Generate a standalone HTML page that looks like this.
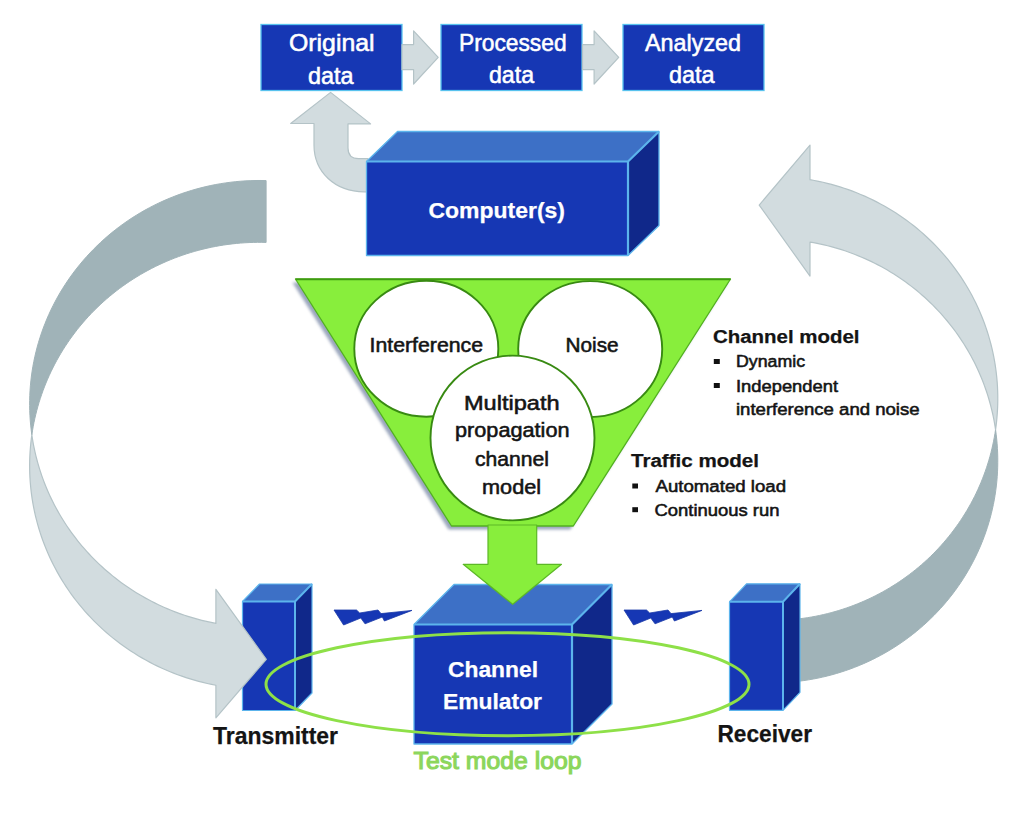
<!DOCTYPE html>
<html><head><meta charset="utf-8"><style>
html,body{margin:0;padding:0;background:#fff;}
svg{display:block;font-family:"Liberation Sans",sans-serif;}
</style></head><body>
<svg width="1024" height="813" viewBox="0 0 1024 813">
<defs><filter id="blur" x="-10%" y="-10%" width="120%" height="120%"><feGaussianBlur stdDeviation="1.6"/></filter></defs>
<rect width="1024" height="813" fill="#fff"/>
<path d="M266.10,180.58 L261.04,180.49 L255.99,180.50 L250.93,180.63 L245.88,180.86 L240.84,181.20 L235.80,181.65 L230.78,182.21 L225.77,182.88 L220.78,183.65 L215.80,184.53 L210.85,185.51 L205.92,186.60 L201.01,187.80 L196.14,189.10 L191.29,190.50 L186.48,192.01 L181.70,193.62 L176.96,195.34 L172.26,197.15 L167.60,199.07 L162.99,201.08 L158.42,203.19 L153.90,205.40 L149.44,207.71 L145.02,210.11 L140.67,212.60 L136.37,215.19 L132.13,217.87 L127.95,220.64 L123.83,223.50 L119.78,226.44 L115.80,229.47 L111.89,232.59 L108.04,235.79 L104.28,239.07 L100.58,242.43 L96.97,245.87 L93.43,249.38 L89.97,252.97 L86.60,256.64 L83.31,260.37 L80.10,264.18 L76.98,268.05 L73.95,271.99 L71.01,275.99 L68.16,280.05 L65.41,284.18 L62.74,288.36 L60.17,292.60 L57.70,296.89 L55.33,301.23 L53.06,305.63 L50.88,310.07 L48.81,314.56 L46.84,319.09 L44.97,323.66 L43.20,328.27 L41.54,332.91 L39.99,337.60 L38.54,342.31 L37.20,347.05 L35.97,351.82 L34.84,356.62 L33.82,361.44 L32.92,366.28 L32.12,371.14 L31.43,376.01 L30.86,380.90 L30.39,385.80 L30.03,390.70 L29.79,395.62 L29.66,400.54 L29.64,405.46 L29.72,410.38 L29.93,415.29 L30.24,420.20 L30.66,425.10 L31.20,430.00 L31.84,434.87 L31.84,434.88 L32.47,430.79 L33.17,426.71 L33.95,422.65 L34.81,418.60 L35.75,414.56 L36.76,410.55 L37.85,406.55 L39.01,402.58 L40.25,398.62 L41.57,394.69 L42.96,390.78 L44.42,386.90 L45.96,383.05 L47.57,379.22 L49.25,375.43 L51.00,371.66 L52.83,367.93 L54.73,364.23 L56.69,360.56 L58.73,356.93 L60.83,353.34 L63.00,349.79 L65.24,346.28 L67.55,342.80 L69.92,339.37 L72.36,335.98 L74.86,332.64 L77.42,329.34 L80.05,326.09 L82.73,322.89 L85.48,319.74 L88.29,316.63 L91.15,313.58 L94.08,310.58 L97.06,307.63 L100.09,304.74 L103.18,301.90 L106.32,299.12 L109.52,296.39 L112.77,293.73 L116.06,291.12 L119.41,288.57 L122.80,286.08 L126.24,283.66 L129.73,281.29 L133.26,278.99 L136.83,276.75 L140.45,274.58 L144.10,272.48 L147.80,270.44 L151.53,268.46 L155.30,266.56 L159.11,264.72 L162.95,262.95 L166.82,261.25 L170.73,259.62 L174.66,258.06 L178.63,256.57 L182.62,255.16 L186.64,253.81 L190.68,252.54 L194.75,251.34 L198.84,250.22 L202.95,249.16 L207.07,248.19 L211.22,247.28 L215.38,246.46 L219.56,245.70 L223.75,245.02 L227.96,244.42 L232.17,243.90 L236.39,243.44 L240.63,243.07 L244.86,242.77 L249.11,242.55 L253.35,242.41 L257.60,242.34 L261.85,242.34 L266.10,242.43Z" fill="#a0b3b8" stroke="#a0b3b8" stroke-width="1"/>
<path d="M995.55,429.66 L996.17,434.32 L996.69,439.00 L997.11,443.68 L997.43,448.38 L997.65,453.08 L997.77,457.78 L997.78,462.49 L997.70,467.19 L997.51,471.89 L997.22,476.59 L996.83,481.28 L996.34,485.96 L995.74,490.62 L995.05,495.28 L994.25,499.92 L993.36,504.54 L992.36,509.14 L991.27,513.73 L990.08,518.28 L988.79,522.81 L987.40,527.32 L985.92,531.79 L984.34,536.23 L982.66,540.64 L980.89,545.01 L979.02,549.35 L977.07,553.64 L975.01,557.89 L972.87,562.10 L970.64,566.27 L968.32,570.38 L965.91,574.45 L963.41,578.47 L960.83,582.43 L958.16,586.34 L955.40,590.19 L952.57,593.99 L949.65,597.72 L946.66,601.39 L943.58,605.00 L940.43,608.55 L937.20,612.03 L933.90,615.44 L930.52,618.78 L927.08,622.05 L923.56,625.25 L919.97,628.37 L916.32,631.42 L912.60,634.39 L908.82,637.29 L904.98,640.10 L901.08,642.84 L897.12,645.49 L893.10,648.06 L889.03,650.55 L884.91,652.95 L880.74,655.26 L876.51,657.49 L872.24,659.63 L867.92,661.68 L863.57,663.64 L859.16,665.51 L854.72,667.28 L850.25,668.97 L845.73,670.56 L841.19,672.05 L836.61,673.45 L832.00,674.76 L827.37,675.97 L822.71,677.08 L818.03,678.10 L813.33,679.02 L808.60,679.84 L803.87,680.56 L799.11,681.18 L794.35,681.71 L789.57,682.13 L784.79,682.46 L780.00,682.68 L780.00,620.35 L783.98,620.17 L787.96,619.92 L791.94,619.60 L795.91,619.22 L799.87,618.76 L803.82,618.23 L807.76,617.64 L811.69,616.98 L815.61,616.25 L819.52,615.46 L823.41,614.59 L827.28,613.66 L831.14,612.66 L834.98,611.60 L838.79,610.47 L842.59,609.27 L846.37,608.01 L850.12,606.68 L853.85,605.29 L857.55,603.83 L861.22,602.31 L864.87,600.73 L868.49,599.09 L872.08,597.38 L875.63,595.61 L879.16,593.78 L882.65,591.88 L886.11,589.93 L889.53,587.92 L892.91,585.85 L896.26,583.72 L899.57,581.54 L902.84,579.29 L906.06,576.99 L909.25,574.64 L912.39,572.23 L915.49,569.77 L918.54,567.25 L921.55,564.68 L924.51,562.06 L927.43,559.39 L930.30,556.67 L933.11,553.90 L935.88,551.08 L938.59,548.21 L941.26,545.30 L943.87,542.34 L946.43,539.34 L948.93,536.29 L951.38,533.20 L953.77,530.07 L956.10,526.90 L958.38,523.69 L960.60,520.44 L962.76,517.15 L964.86,513.82 L966.91,510.46 L968.89,507.06 L970.81,503.63 L972.66,500.17 L974.46,496.68 L976.19,493.15 L977.86,489.60 L979.46,486.02 L981.00,482.41 L982.48,478.77 L983.89,475.11 L985.23,471.42 L986.51,467.72 L987.72,463.99 L988.86,460.24 L989.94,456.47 L990.95,452.68 L991.88,448.88 L992.76,445.06 L993.56,441.23 L994.29,437.38 L994.96,433.52 L995.55,429.66Z" fill="#a0b3b8" stroke="#a0b3b8" stroke-width="1"/>
<path d="M810.00,145.10 L759.20,205.10 L810.00,276.10 L810.00,242.04 L813.55,242.67 L817.09,243.35 L820.61,244.09 L824.13,244.89 L827.63,245.74 L831.11,246.64 L834.59,247.60 L838.04,248.61 L841.48,249.68 L844.90,250.80 L848.30,251.98 L851.68,253.20 L855.05,254.48 L858.39,255.82 L861.70,257.20 L865.00,258.64 L868.27,260.12 L871.52,261.66 L874.74,263.25 L877.94,264.89 L881.11,266.58 L884.25,268.32 L887.36,270.10 L890.44,271.94 L893.50,273.82 L896.52,275.76 L899.51,277.73 L902.46,279.76 L905.39,281.83 L908.28,283.94 L911.13,286.11 L913.95,288.31 L916.74,290.56 L919.49,292.85 L922.19,295.19 L924.87,297.57 L927.50,299.98 L930.09,302.44 L932.64,304.94 L935.15,307.48 L937.62,310.06 L940.05,312.68 L942.44,315.33 L944.78,318.02 L947.07,320.75 L949.33,323.51 L951.54,326.31 L953.70,329.14 L955.81,332.01 L957.88,334.91 L959.90,337.84 L961.88,340.80 L963.80,343.79 L965.68,346.81 L967.51,349.86 L969.28,352.94 L971.01,356.05 L972.69,359.18 L974.31,362.34 L975.88,365.52 L977.41,368.73 L978.88,371.96 L980.29,375.22 L981.66,378.49 L982.97,381.79 L984.22,385.10 L985.43,388.44 L986.58,391.79 L987.67,395.16 L988.71,398.55 L989.69,401.96 L990.62,405.38 L991.49,408.81 L992.31,412.26 L993.07,415.71 L993.78,419.18 L994.42,422.67 L995.01,426.16 L995.55,429.66 L995.55,429.66 L996.13,425.36 L996.62,421.06 L997.02,416.75 L997.34,412.43 L997.58,408.11 L997.73,403.78 L997.79,399.45 L997.76,395.12 L997.65,390.79 L997.46,386.46 L997.18,382.14 L996.81,377.83 L996.35,373.52 L995.82,369.22 L995.19,364.94 L994.48,360.66 L993.69,356.41 L992.81,352.16 L991.85,347.94 L990.80,343.73 L989.67,339.54 L988.46,335.38 L987.16,331.24 L985.78,327.13 L984.32,323.04 L982.78,318.98 L981.16,314.96 L979.46,310.96 L977.68,307.00 L975.83,303.07 L973.89,299.18 L971.88,295.33 L969.79,291.51 L967.63,287.74 L965.39,284.01 L963.08,280.32 L960.69,276.68 L958.23,273.08 L955.71,269.53 L953.11,266.03 L950.44,262.58 L947.70,259.18 L944.90,255.84 L942.03,252.55 L939.10,249.31 L936.10,246.14 L933.04,243.01 L929.92,239.95 L926.74,236.95 L923.50,234.01 L920.20,231.14 L916.85,228.32 L913.44,225.57 L909.98,222.89 L906.46,220.28 L902.89,217.73 L899.27,215.25 L895.61,212.84 L891.89,210.50 L888.14,208.23 L884.33,206.04 L880.49,203.91 L876.60,201.86 L872.67,199.89 L868.70,197.99 L864.70,196.17 L860.66,194.43 L856.59,192.76 L852.48,191.17 L848.35,189.66 L844.18,188.23 L839.99,186.88 L835.77,185.61 L831.53,184.42 L827.26,183.31 L822.97,182.29 L818.67,181.34 L814.34,180.48 L810.00,179.71Z" fill="#d2dcdf" stroke="#b4c3c7" stroke-width="1.2" stroke-linejoin="round"/>
<rect x="261" y="24.5" width="141" height="66" fill="#1637b4" stroke="#58c2ee" stroke-width="1.3"/>
<rect x="441" y="24.5" width="141" height="66" fill="#1637b4" stroke="#58c2ee" stroke-width="1.3"/>
<rect x="623" y="24.5" width="141" height="66" fill="#1637b4" stroke="#58c2ee" stroke-width="1.3"/>
<path d="M402,44.6 L413.6,44.6 L413.6,30.8 L438.2,57.4 L413.6,84 L413.6,69.7 L402,69.7 Z" fill="#d2dcdf" stroke="#b4c3c7" stroke-width="1.2" stroke-linejoin="round"/>
<path d="M582.5,44.6 L594.1,44.6 L594.1,30.8 L618.7,57.4 L594.1,84 L594.1,69.7 L582.5,69.7 Z" fill="#d2dcdf" stroke="#b4c3c7" stroke-width="1.2" stroke-linejoin="round"/>
<path d="M330.6,92.4 L370.6,123.9 L348,123.9 L348,148 Q348,158.6 358.6,158.6 L368,158.6 L368,192 L364.2,191.8 C335,191.8 314,172 314,145 L314,123.5 L290.7,123.5 Z" fill="#d2dcdf" stroke="#b4c3c7" stroke-width="1.2" stroke-linejoin="round"/>
<polygon points="366.5,161.5 397.5,131.5 659,131.5 628,161.5" fill="#3d70c6"/>
<polygon points="628,161.5 659,131.5 659,225.5 628,255.5" fill="#10288a"/>
<rect x="366.5" y="161.5" width="261.5" height="94.0" fill="#1637b4"/>
<path d="M366.5,255.5 L366.5,161.5 L397.5,131.5 L659,131.5 L659,225.5 L628,255.5 Z" fill="none" stroke="#5cb4ec" stroke-width="1.32" stroke-linejoin="round"/>
<path d="M366.5,161.5 L628,161.5 L628,255.5 M628,161.5 L659,131.5" fill="none" stroke="#5cb4ec" stroke-width="2.2" stroke-linejoin="round"/>
<polygon points="295.5,279 730.5,279 573.3,526 451.5,526" fill="#7080a0" opacity="0.7" transform="translate(-3,3.5)" filter="url(#blur)"/>
<polygon points="295.5,279 730.5,279 573.3,526 451.5,526" fill="#88ee3c" stroke="#52b020" stroke-width="1.3" stroke-linejoin="round"/>
<line x1="295.5" y1="279.3" x2="730.5" y2="279.3" stroke="#3f9a12" stroke-width="1.8"/>
<ellipse cx="426.3" cy="348.7" rx="72" ry="68" fill="#fff" stroke="#388a12" stroke-width="1.9"/>
<ellipse cx="590.2" cy="349.1" rx="72" ry="68" fill="#fff" stroke="#388a12" stroke-width="1.9"/>
<ellipse cx="512.5" cy="438" rx="82" ry="82.4" fill="#fff" stroke="#388a12" stroke-width="1.9"/>
<polygon points="414,624.5 454,584.5 612,584.5 572,624.5" fill="#3d70c6"/>
<polygon points="572,624.5 612,584.5 612,704 572,744" fill="#10288a"/>
<rect x="414" y="624.5" width="158" height="119.5" fill="#1637b4"/>
<path d="M414,744 L414,624.5 L454,584.5 L612,584.5 L612,704 L572,744 Z" fill="none" stroke="#5cb4ec" stroke-width="1.32" stroke-linejoin="round"/>
<path d="M414,624.5 L572,624.5 L572,744 M572,624.5 L612,584.5" fill="none" stroke="#5cb4ec" stroke-width="2.2" stroke-linejoin="round"/>
<path d="M488,525 L536.7,525 L536.7,564.3 L561.5,564.3 L512.7,604.3 L463.2,564.3 L488,564.3 Z" fill="#88ee3c" stroke="#5cb826" stroke-width="1.2" stroke-linejoin="round"/>
<polygon points="242.5,601.5 259.5,584.0 312,584.0 295,601.5" fill="#3d70c6"/>
<polygon points="295,601.5 312,584.0 312,693.0 295,710.5" fill="#10288a"/>
<rect x="242.5" y="601.5" width="52.5" height="109.0" fill="#1637b4"/>
<path d="M242.5,710.5 L242.5,601.5 L259.5,584.0 L312,584.0 L312,693.0 L295,710.5 Z" fill="none" stroke="#5cb4ec" stroke-width="1.20" stroke-linejoin="round"/>
<path d="M242.5,601.5 L295,601.5 L295,710.5 M295,601.5 L312,584.0" fill="none" stroke="#5cb4ec" stroke-width="2" stroke-linejoin="round"/>
<polygon points="729.5,601.8 746.5,583.8 800,583.8 783,601.8" fill="#3d70c6"/>
<polygon points="783,601.8 800,583.8 800,692.3 783,710.3" fill="#10288a"/>
<rect x="729.5" y="601.8" width="53.5" height="108.5" fill="#1637b4"/>
<path d="M729.5,710.3 L729.5,601.8 L746.5,583.8 L800,583.8 L800,692.3 L783,710.3 Z" fill="none" stroke="#5cb4ec" stroke-width="1.20" stroke-linejoin="round"/>
<path d="M729.5,601.8 L783,601.8 L783,710.3 M783,601.8 L800,583.8" fill="none" stroke="#5cb4ec" stroke-width="2" stroke-linejoin="round"/>
<path d="M31.84,434.88 L31.27,439.14 L30.79,443.41 L30.39,447.69 L30.07,451.98 L29.84,456.27 L29.69,460.57 L29.63,464.86 L29.66,469.16 L29.76,473.46 L29.96,477.75 L30.24,482.04 L30.60,486.32 L31.05,490.60 L31.58,494.87 L32.20,499.12 L32.90,503.37 L33.68,507.60 L34.55,511.81 L35.50,516.01 L36.54,520.19 L37.65,524.35 L38.85,528.48 L40.13,532.60 L41.49,536.69 L42.93,540.75 L44.45,544.78 L46.06,548.79 L47.74,552.77 L49.49,556.71 L51.33,560.62 L53.24,564.49 L55.23,568.33 L57.30,572.13 L59.44,575.89 L61.65,579.61 L63.93,583.29 L66.29,586.92 L68.72,590.51 L71.22,594.06 L73.79,597.55 L76.43,601.00 L79.14,604.40 L81.91,607.74 L84.75,611.03 L87.65,614.27 L90.62,617.46 L93.65,620.59 L96.74,623.66 L99.89,626.67 L103.10,629.63 L106.37,632.52 L109.69,635.35 L113.07,638.12 L116.50,640.82 L119.99,643.46 L123.53,646.04 L127.11,648.54 L130.75,650.98 L134.44,653.36 L138.17,655.66 L141.94,657.89 L145.76,660.05 L149.62,662.14 L153.52,664.16 L157.46,666.10 L161.44,667.97 L165.46,669.76 L169.50,671.48 L173.59,673.12 L177.70,674.69 L181.85,676.18 L186.02,677.59 L190.22,678.92 L194.44,680.17 L198.69,681.35 L202.97,682.44 L207.26,683.46 L211.57,684.39 L215.90,685.24 L215.90,717.80 L266.30,659.30 L215.90,589.30 L215.90,623.39 L212.36,622.70 L208.83,621.96 L205.32,621.16 L201.81,620.30 L198.33,619.40 L194.85,618.44 L191.40,617.43 L187.95,616.36 L184.53,615.24 L181.13,614.07 L177.74,612.85 L174.38,611.58 L171.03,610.26 L167.71,608.88 L164.41,607.45 L161.14,605.98 L157.89,604.45 L154.66,602.87 L151.46,601.25 L148.28,599.58 L145.14,597.85 L142.02,596.08 L138.93,594.27 L135.87,592.40 L132.84,590.49 L129.84,588.53 L126.88,586.53 L123.94,584.48 L121.04,582.39 L118.18,580.25 L115.35,578.07 L112.55,575.85 L109.79,573.58 L107.07,571.28 L104.39,568.93 L101.74,566.54 L99.13,564.11 L96.56,561.64 L94.04,559.13 L91.55,556.58 L89.11,554.00 L86.70,551.38 L84.34,548.72 L82.02,546.03 L79.75,543.30 L77.52,540.53 L75.34,537.74 L73.20,534.91 L71.11,532.04 L69.06,529.15 L67.06,526.22 L65.11,523.27 L63.21,520.28 L61.35,517.27 L59.54,514.23 L57.79,511.16 L56.08,508.07 L54.42,504.94 L52.82,501.80 L51.26,498.63 L49.76,495.43 L48.31,492.22 L46.91,488.98 L45.56,485.72 L44.26,482.44 L43.02,479.14 L41.83,475.83 L40.70,472.49 L39.62,469.14 L38.59,465.77 L37.62,462.39 L36.71,458.99 L35.84,455.58 L35.04,452.16 L34.29,448.72 L33.59,445.27 L32.95,441.82 L32.37,438.35 L31.84,434.88Z" fill="#d2dcdf" stroke="#b4c3c7" stroke-width="1.2" stroke-linejoin="round"/>
<polygon points="334.0,610.0 356.5,610.0 359.7,613.0 378.0,610.0 381.0,613.6 412.0,610.4 384.4,621.0 382.3,617.0 365.0,623.8 360.8,618.0 343.6,625.0" fill="#1637b4" stroke="#1a3aa8" stroke-width="0.8" stroke-linejoin="round"/>
<polygon points="624.0,610.0 646.5,610.0 649.7,613.0 668.0,610.0 671.0,613.6 702.0,610.4 674.4,621.0 672.3,617.0 655.0,623.8 650.8,618.0 633.6,625.0" fill="#1637b4" stroke="#1a3aa8" stroke-width="0.8" stroke-linejoin="round"/>
<ellipse cx="507.5" cy="684.2" rx="241.5" ry="51.5" fill="none" stroke="#8ee048" stroke-width="3"/>
<text x="289.00" y="51.30" font-size="24.37" font-weight="normal" fill="#ffffff" stroke="#ffffff" stroke-width="0.55" textLength="85.57" lengthAdjust="spacingAndGlyphs">Original</text>
<text x="308.00" y="83.50" font-size="24.37" font-weight="normal" fill="#ffffff" stroke="#ffffff" stroke-width="0.55" textLength="45.50" lengthAdjust="spacingAndGlyphs">data</text>
<text x="459.00" y="51.00" font-size="24.37" font-weight="normal" fill="#ffffff" stroke="#ffffff" stroke-width="0.55" textLength="107.58" lengthAdjust="spacingAndGlyphs">Processed</text>
<text x="489.00" y="83.40" font-size="24.37" font-weight="normal" fill="#ffffff" stroke="#ffffff" stroke-width="0.55" textLength="45.02" lengthAdjust="spacingAndGlyphs">data</text>
<text x="645.00" y="51.00" font-size="24.37" font-weight="normal" fill="#ffffff" stroke="#ffffff" stroke-width="0.55" textLength="96.01" lengthAdjust="spacingAndGlyphs">Analyzed</text>
<text x="669.00" y="83.40" font-size="24.37" font-weight="normal" fill="#ffffff" stroke="#ffffff" stroke-width="0.55" textLength="45.53" lengthAdjust="spacingAndGlyphs">data</text>
<text x="428.50" y="218.20" font-size="22.38" font-weight="bold" fill="#ffffff" stroke="#ffffff" stroke-width="0.25" textLength="136.53" lengthAdjust="spacingAndGlyphs">Computer(s)</text>
<text x="369.50" y="352.30" font-size="20.40" font-weight="normal" fill="#141414" stroke="#141414" stroke-width="0.55" textLength="113.53" lengthAdjust="spacingAndGlyphs">Interference</text>
<text x="565.50" y="352.20" font-size="20.40" font-weight="normal" fill="#141414" stroke="#141414" stroke-width="0.55" textLength="53.09" lengthAdjust="spacingAndGlyphs">Noise</text>
<text x="464.00" y="410.10" font-size="20.40" font-weight="normal" fill="#141414" stroke="#141414" stroke-width="0.55" textLength="95.59" lengthAdjust="spacingAndGlyphs">Multipath</text>
<text x="455.00" y="437.40" font-size="20.40" font-weight="normal" fill="#141414" stroke="#141414" stroke-width="0.55" textLength="114.54" lengthAdjust="spacingAndGlyphs">propagation</text>
<text x="475.00" y="466.20" font-size="20.40" font-weight="normal" fill="#141414" stroke="#141414" stroke-width="0.55" textLength="74.05" lengthAdjust="spacingAndGlyphs">channel</text>
<text x="482.00" y="493.50" font-size="20.40" font-weight="normal" fill="#141414" stroke="#141414" stroke-width="0.55" textLength="59.14" lengthAdjust="spacingAndGlyphs">model</text>
<text x="713.00" y="342.70" font-size="18.82" font-weight="bold" fill="#141414" stroke="#141414" stroke-width="0.25" textLength="146.52" lengthAdjust="spacingAndGlyphs">Channel model</text>
<text x="736.00" y="366.90" font-size="16.79" font-weight="normal" fill="#141414" stroke="#141414" stroke-width="0.55" textLength="69.01" lengthAdjust="spacingAndGlyphs">Dynamic</text>
<text x="736.00" y="392.10" font-size="16.79" font-weight="normal" fill="#141414" stroke="#141414" stroke-width="0.55" textLength="102.01" lengthAdjust="spacingAndGlyphs">Independent</text>
<text x="736.00" y="415.10" font-size="16.79" font-weight="normal" fill="#141414" stroke="#141414" stroke-width="0.55" textLength="183.53" lengthAdjust="spacingAndGlyphs">interference and noise</text>
<text x="631.00" y="466.90" font-size="18.82" font-weight="bold" fill="#141414" stroke="#141414" stroke-width="0.25" textLength="128.02" lengthAdjust="spacingAndGlyphs">Traffic model</text>
<text x="655.50" y="492.30" font-size="16.79" font-weight="normal" fill="#141414" stroke="#141414" stroke-width="0.55" textLength="130.51" lengthAdjust="spacingAndGlyphs">Automated load</text>
<text x="654.50" y="515.60" font-size="16.79" font-weight="normal" fill="#141414" stroke="#141414" stroke-width="0.55" textLength="125.02" lengthAdjust="spacingAndGlyphs">Continuous run</text>
<text x="448.00" y="677.30" font-size="22.02" font-weight="bold" fill="#ffffff" stroke="#ffffff" stroke-width="0.25" textLength="90.05" lengthAdjust="spacingAndGlyphs">Channel</text>
<text x="443.00" y="709.00" font-size="22.02" font-weight="bold" fill="#ffffff" stroke="#ffffff" stroke-width="0.25" textLength="99.02" lengthAdjust="spacingAndGlyphs">Emulator</text>
<text x="213.00" y="743.70" font-size="23.84" font-weight="bold" fill="#141414" stroke="#141414" stroke-width="0.25" textLength="125.01" lengthAdjust="spacingAndGlyphs">Transmitter</text>
<text x="717.50" y="742.00" font-size="23.11" font-weight="bold" fill="#141414" stroke="#141414" stroke-width="0.25" textLength="94.53" lengthAdjust="spacingAndGlyphs">Receiver</text>
<text x="413.50" y="768.90" font-size="23.55" font-weight="normal" fill="#8cd65c" stroke="#8cd65c" stroke-width="1.1" textLength="168.01" lengthAdjust="spacingAndGlyphs">Test mode loop</text>
<rect x="713.8" y="359" width="6.0" height="5.0" fill="#111"/>
<rect x="713.8" y="383" width="6.0" height="5.0" fill="#111"/>
<rect x="632.3" y="483.5" width="5.7" height="5.0" fill="#111"/>
<rect x="632.3" y="507.2" width="5.7" height="5.0" fill="#111"/>
</svg>
</body></html>
